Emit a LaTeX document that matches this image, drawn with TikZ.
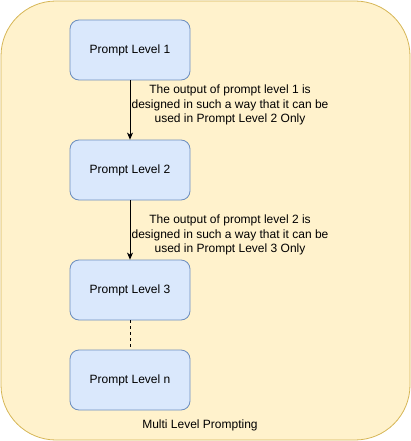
\documentclass[tikz,border=0pt]{standalone}
\usepackage{fontspec}
\setmainfont{Liberation Sans}
\usetikzlibrary{arrows.meta}
\definecolor{contfill}{HTML}{FFF2CC}
\definecolor{contdraw}{HTML}{D6B656}
\definecolor{boxfill}{HTML}{DAE8FC}
\definecolor{boxdraw}{HTML}{6C8EBF}
\tikzset{
  levelbox/.style={draw=boxdraw, fill=boxfill, rounded corners=9pt, minimum width=120pt, minimum height=60pt, inner sep=0pt, font=\fontsize{12}{14}\selectfont, line width=0.8pt},
  note/.style={align=center, font=\fontsize{12}{14.3}\selectfont, inner sep=0pt},
  conn/.style={line width=0.8pt, -{Stealth[length=7pt,width=6pt,inset=2pt]}}
}
\begin{document}
\begin{tikzpicture}[x=1pt,y=-1pt]
\useasboundingbox (0,0) rectangle (411,441);
\draw[draw=contdraw, fill=contfill, rounded corners=55pt, line width=0.8pt] (1,1) rectangle (410,440);
\node[levelbox] (l1) at (130,50) {Prompt Level 1};
\node[levelbox] (l2) at (130,170) {Prompt Level 2};
\node[levelbox] (l3) at (130,290) {Prompt Level 3};
\node[levelbox] (ln) at (130,380) {Prompt Level n};
\draw[conn] (l1) -- (l2);
\draw[conn] (l2) -- (l3);
\draw[dashed, line width=0.8pt] (l3) -- (ln);
\node[note] (t1) at (230,105) {The output of prompt level 1 is\\designed in such a way that it can be\\used in Prompt Level 2 Only};
\node[note] (t2) at (230,235) {The output of prompt level 2 is\\designed in such a way that it can be\\used in Prompt Level 3 Only};
\node[note] (title) at (200,425) {Multi Level Prompting};
\end{tikzpicture}
\end{document}
